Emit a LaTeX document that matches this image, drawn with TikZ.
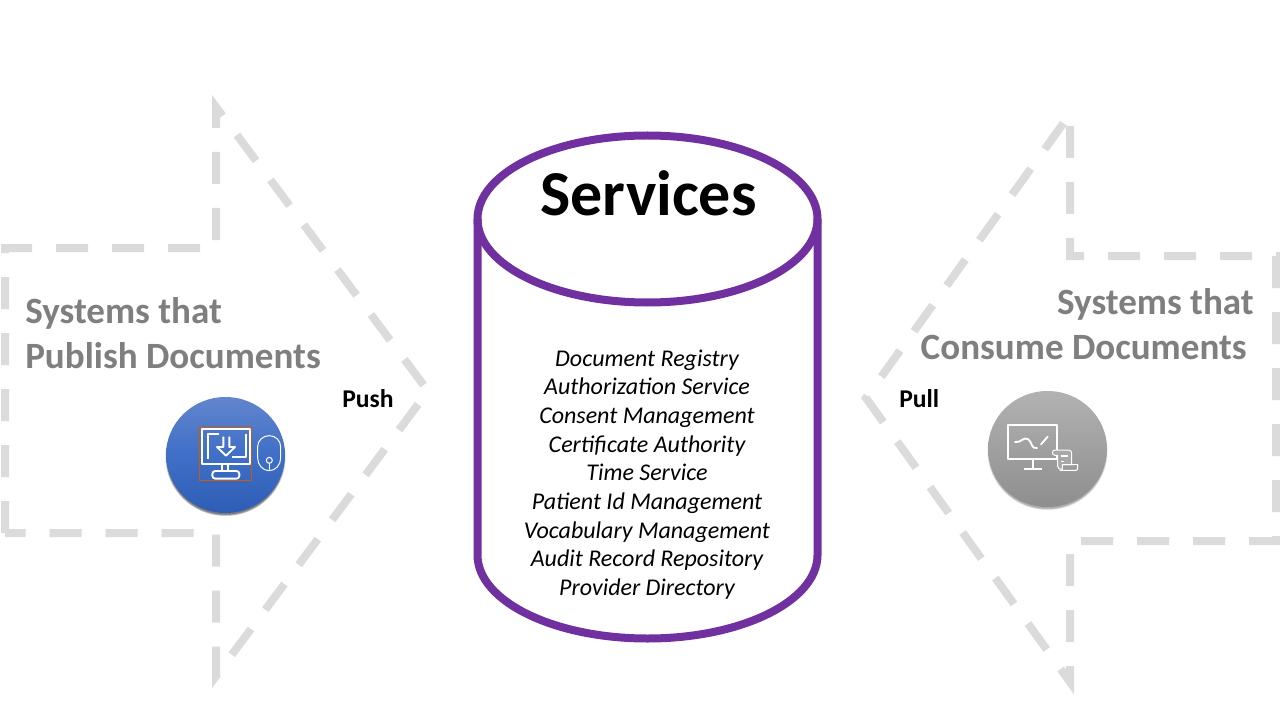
\documentclass[tikz,border=0pt]{standalone}
\usepackage{fontspec}
\setmainfont{Carlito}
\definecolor{purp}{HTML}{7030A0}
\definecolor{dashgrey}{HTML}{DBDBDB}
\definecolor{headgrey}{HTML}{7F7F7F}
\definecolor{bluetop}{HTML}{6285CE}
\definecolor{bluemid}{HTML}{3F6FC7}
\definecolor{bluebot}{HTML}{2E5DB5}
\definecolor{greytop}{HTML}{B2B2B2}
\definecolor{greybot}{HTML}{8E8E8E}
\definecolor{framebrown}{HTML}{C55A11}
\tikzset{
  arrowoutline/.style={draw=dashgrey,line width=6pt,miter limit=10,line join=miter},
  head/.style={anchor=base,inner sep=0pt,text=headgrey,font=\fontsize{27.8}{27.8}\selectfont\bfseries},
  flowlabel/.style={anchor=base west,inner sep=0pt,text=black,font=\fontsize{19.2}{19.2}\selectfont\bfseries},
  service/.style={anchor=base,inner sep=0pt,text=black,font=\fontsize{18}{18}\selectfont\itshape},
  icon/.style={draw=white,line width=1.4pt,line join=round},
  thinicon/.style={draw=white,line width=0.75pt,line join=round},
}
\newcommand{\softshadow}[4]{%
  \foreach \k in {0,1,2,3}{%
    \fill[black,opacity=#4] (#1,{#2+2.5}) ellipse[x radius={#3-1+\k*0.5},y radius={#3-2.5+\k*0.5}];}%
}
\begin{document}
\begin{tikzpicture}[x=0.75pt,y=-0.75pt]
\useasboundingbox (0,0) rectangle (1280,720);
\fill[white] (0,0) rectangle (1280,720);
% dashed arrows
\draw[arrowoutline,dash pattern=on 24pt off 18pt]
  (5,533) -- (5,248) -- (216,248) -- (216,107) -- (428,391) -- (216,676) -- (216,533) -- cycle;
\draw[arrowoutline,dash pattern=on 24pt off 18pt,dash phase=33pt]
  (1070,114) -- (1070,256) -- (1276,256) -- (1276,541) -- (1070,541) -- (1070,682) -- (866,398) -- cycle;
% cylinder
\draw[purp,line width=6pt] (477.5,219) -- (477.5,555) arc[start angle=180,end angle=0,x radius=170,y radius=83.5] -- (817.5,219);
\draw[purp,line width=6pt] (647.5,219) ellipse[x radius=170,y radius=83.5];
\node[anchor=base,inner sep=0pt,font=\fontsize{48}{48}\selectfont\bfseries] (services) at (648.5,215) {Services};
\foreach \n/\t [count=\i from 0] in {reg/Document Registry,auth/Authorization Service,consent/Consent Management,cert/Certificate Authority,time/Time Service,pid/Patient Id Management,vocab/Vocabulary Management,audit/Audit Record Repository,prov/Provider Directory}
  \node[service] (\n) at (647,366+\i*28.7) {\t};
% headings
\node[head,anchor=base west] (pub1) at (25,323) {Systems that};
\node[head,anchor=base west] (pub2) at (25,368) {Publish Documents};
\node[head,anchor=base east] (con1) at (1254,314) {Systems that};
\node[head,anchor=base east] (con2) at (1247,359) {Consume Documents};
\node[flowlabel] (push) at (342,407) {Push};
\node[flowlabel] (pull) at (899,407) {Pull};
% blue badge
\softshadow{225.5}{455}{59.5}{0.16}
\shade[top color=bluetop,bottom color=bluebot,middle color=bluemid] (225.5,455) ellipse[x radius=59.5,y radius=58];
\begin{scope}[shift={(150,385)},x=0.25pt,y=-0.25pt]
  \draw[framebrown,line width=0.5pt] (149,125) rectangle (305,285);
  \draw[icon] (156,133) rectangle (299,237);
  \draw[icon] (207,147) -- (175,147) -- (175,222);
  \draw[icon] (287,147) -- (287,215) -- (247,215);
  \draw[icon] (220,155) -- (220,186) -- (201,186) -- (228,212) -- (255,186) -- (238,186) -- (238,155);
  \draw[icon] (217,238) -- (217,258);
  \draw[icon] (235,238) -- (235,258);
  \draw[icon,rounded corners=2.2pt] (187,281) -- (187,258) -- (268,258) -- (268,281) -- cycle;
  \draw[thinicon] (323,204) -- (323,219) arc[start angle=180,end angle=0,x radius=34.5,y radius=38] -- (392,185)
     arc[start angle=0,end angle=-180,x radius=34.5,y radius=33] -- cycle;
  \draw[thinicon] (358,226) circle[radius=9];
  \draw[thinicon] (358,235) -- (358,256);
\end{scope}
% grey badge
\softshadow{1047.5}{449}{59.5}{0.09}
\shade[top color=greytop,bottom color=greybot] (1047.5,449) ellipse[x radius=59.5,y radius=58];
\begin{scope}[shift={(975,380)},x=0.25pt,y=-0.25pt]
  \draw[icon] (99,134) rectangle (247,237);
  \draw[icon] (173,237) -- (173,265);
  \draw[icon] (147,266) -- (201,266);
  \draw[icon,line cap=round] (120,186) .. controls (138,190) and (145,168) .. (160,178) .. controls (172,187) and (168,208) .. (186,204);
  \draw[icon,line cap=round] (198,193) -- (218,170);
  \draw[thinicon,fill=greytop!72!greybot] (248,226) -- (240,226) arc[start angle=90,end angle=270,radius=8] -- (280,210)
     .. controls (288,210) and (290,214) .. (290,222) -- (290,254) -- (262,254) -- (262,268) .. controls (254,270) and (248,266) .. (248,258) -- cycle;
  \draw[thinicon] (262,254) -- (308,254) -- (308,266) .. controls (308,270) and (304,271) .. (300,271) -- (254,271);
  \draw[thinicon,line width=1pt] (258,228) -- (280,228);
  \draw[thinicon,line width=1pt] (258,245) -- (268,245);
\end{scope}
\end{tikzpicture}
\end{document}
